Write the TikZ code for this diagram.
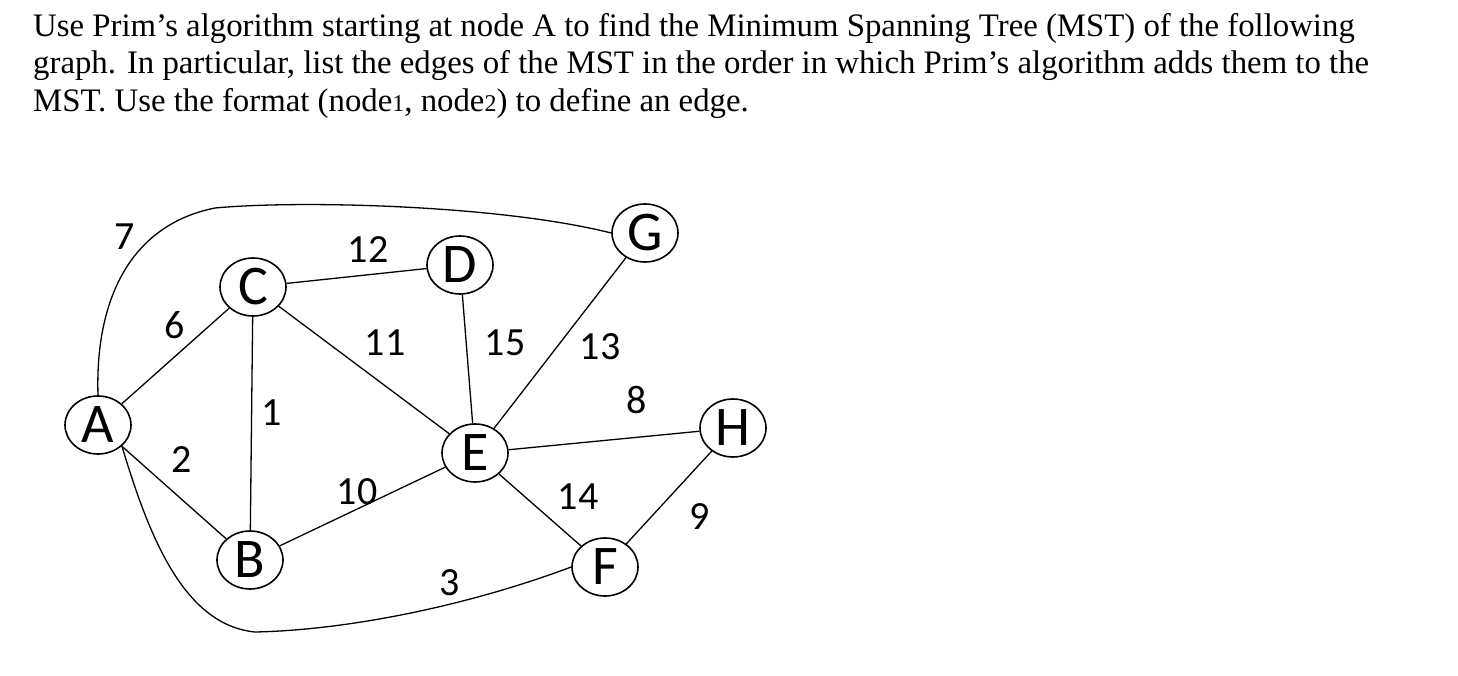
\documentclass[tikz,border=0pt]{standalone}
\usepackage{fontspec}
\usetikzlibrary{shapes.geometric}
\setmainfont{Liberation Serif}
\newfontfamily\lbl{Carlito}
\begin{document}
\begin{tikzpicture}[x=1pt,y=-1pt,
  vtx/.style={draw,line width=1.6pt,ellipse,fill=white,minimum width=66pt,minimum height=58pt,inner sep=0pt,font=\lbl\fontsize{56}{56}\selectfont},
  wt/.style={font=\lbl\fontsize{40}{40}\selectfont,inner sep=0pt},
  edge/.style={line width=1.3pt}]
\useasboundingbox (0,0) rectangle (1458,676);
\node[anchor=north west,align=left,font=\fontsize{32.8}{37.5}\selectfont,inner sep=0pt] (q) at (33,13)
{Use Prim's algorithm starting at node A to find the Minimum Spanning Tree (MST) of the following\\
graph. In particular, list the edges of the MST in the order in which Prim's algorithm adds them to the\\
MST. Use the format (node{\fontsize{24}{24}\selectfont 1}, node{\fontsize{24}{24}\selectfont 2}) to define an edge.};
\node[vtx] (A) at (98,425) {A};
\node[vtx] (C) at (253,287) {C};
\node[vtx] (D) at (460,265) {D};
\node[vtx] (G) at (645,233) {G};
\node[vtx] (E) at (475,453) {E};
\node[vtx] (H) at (733,428) {H};
\node[vtx] (B) at (250,560) {B};
\node[vtx] (F) at (605,567) {F};
\draw[edge] (A.north) .. controls (95,300) and (130,225) .. (215,208) .. controls (300,200) and (500,205) .. (G.west);
\draw[edge] (A.south east) .. controls (150,540) and (185,625) .. (255,632) .. controls (350,630) and (470,605) .. (F.west);
\draw[edge] (A) -- (C); \draw[edge] (A) -- (B); \draw[edge] (C) -- (B);
\draw[edge] (C) -- (D); \draw[edge] (C) -- (E); \draw[edge] (D) -- (E);
\draw[edge] (G) -- (E); \draw[edge] (E) -- (H); \draw[edge] (E) -- (F);
\draw[edge] (B) -- (E); \draw[edge] (H) -- (F);
\node[wt] (w7) at (125,237) {7};
\node[wt] (w6) at (175,325) {6};
\node[wt] (w2) at (182,460) {2};
\node[wt] (w1) at (272,413) {1};
\node[wt] (w12) at (368,250) {12};
\node[wt] (w11) at (385,343) {11};
\node[wt] (w15) at (505,343) {15};
\node[wt] (w13) at (600,347) {13};
\node[wt] (w8) at (637,400) {8};
\node[wt] (w14) at (578,497) {14};
\node[wt] (w10) at (357,492) {10};
\node[wt] (w9) at (700,517) {9};
\node[wt] (w3) at (450,583) {3};
\end{tikzpicture}
\end{document}
